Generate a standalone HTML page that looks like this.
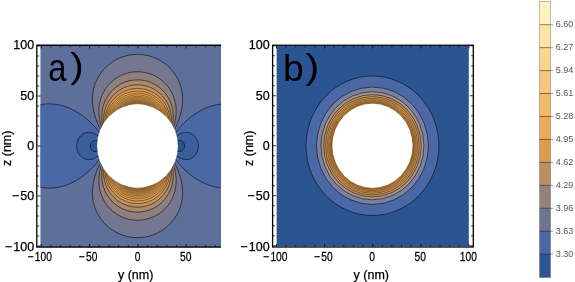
<!DOCTYPE html>
<html><head><meta charset="utf-8"><title>Contour plots</title>
<style>
html,body{margin:0;padding:0;background:#fff;}
body{width:575px;height:282px;overflow:hidden;position:relative;}
svg{position:absolute;left:0;top:0;display:block;}
text{font-family:"Liberation Sans", Arial, sans-serif;}
</style></head><body>
<svg width="575" height="282" viewBox="0 0 575 282">
<defs>
<clipPath id="ca"><rect x="40.45" y="45.9" width="180.55" height="200.6"/></clipPath>
<clipPath id="cb"><rect x="276.4" y="46.0" width="192.5" height="200.5"/></clipPath>
</defs>
<rect width="575" height="282" fill="#fff"/>
<g clip-path="url(#ca)">
<rect x="37.45" y="42.9" width="186.55" height="206.6" fill="#5d6f9b"/>
<path d="M46.8 103.9L50.5 103.9 54 104.1 57.5 104.6 61 105.3 65 106.5 68.5 107.8 72 109.4 75.5 111.2 79 113.3 82.5 115.7 86 118.4 89 121 92 123.9 95 127.1 97.5 130.1 100 133.5 100 134.9 99.5 135.4 99.5 136.9 99 137.4 99 139.4 98.5 139.9 98.5 151.9 99 152.4 99 154.4 99.5 154.9 99.5 156.9 100 157.4 100 158.4 97.5 161.9 95 164.9 93 167.1 90.5 169.6 88 171.9 85.5 174 83 176 80 178.1 77.5 179.7 74.5 181.4 71.5 182.9 68.5 184.2 66 185.1 63 186.1 60.5 186.8 57.5 187.4 55 187.8 52 188.1 48 188.1 44.5 187.9 41 187.4 37.5 186.5 37.5 105.5 39.6 104.9 42 104.4 44.5 104.1 46.8 103.9ZM223.4 103.9L223.9 103.9 223.9 188.1 220.4 187.8 217 187.3 213.9 186.6 210.4 185.6 207.4 184.5 203.9 183.1 200.9 181.6 197.4 179.6 194.4 177.7 190.9 175.1 187.9 172.7 184.9 170 181.9 167 179.4 164.2 176.9 161.1 174.9 158.4 174.9 157.4 175.4 156.9 175.4 155.4 175.9 154.9 175.9 152.9 176.4 152.4 176.4 148.4 176.9 147.9 176.9 143.9 176.4 143.4 176.4 139.4 175.9 138.9 175.9 136.9 175.4 136.4 175.4 134.9 174.9 134.4 174.9 133.6 177.4 130.2 180.4 126.7 182.4 124.5 184.9 122 187.4 119.7 189.9 117.6 192.4 115.7 195.4 113.7 197.9 112.1 200.9 110.4 203.9 108.9 206.9 107.6 209.4 106.7 212.4 105.8 214.9 105.1 218 104.5 220.9 104.1 223.4 103.9Z" fill="#4a68a6" stroke="#000" stroke-opacity="0.55" stroke-width="1.0"/>
<path d="M88.4 132.4L89.5 132.4 91 132.6 92.5 132.9 94 133.5 95.5 134.2 97 135.2 98 135.9 99.2 137.1 99 137.4 99 139.4 98.5 139.9 98.5 151.9 99 152.4 99 154.4 99.3 154.8 98.5 155.7 97 156.8 96 157.5 94.5 158.3 93 158.9 91.9 159.2 91 159.4 89.5 159.6 88 159.6 87 159.4 85.5 159.1 84.5 158.7 83.5 158.2 82.5 157.6 81.5 156.9 80.5 155.9 79.6 154.9 78.9 153.9 78.3 152.9 77.6 151.4 77.3 150.4 76.9 148.9 76.8 147.9 76.6 146.4 76.7 144.9 76.9 143.4 77.2 141.9 77.5 140.9 78.1 139.4 78.7 138.4 80 136.6 80.6 135.9 81.7 134.9 83 134.1 84 133.5 86 132.8 87 132.6 88.4 132.4ZM185.6 132.4L186.9 132.4 187.9 132.5 189.4 132.9 190.4 133.2 191.4 133.7 192.6 134.4 193.4 135.1 194.4 135.9 195.3 136.9 196 137.9 196.6 138.9 197.3 140.4 197.7 141.4 198 142.9 198.2 143.9 198.4 145.4 198.3 146.9 198.2 148.4 197.9 149.9 197.6 150.9 196.9 152.4 196.4 153.4 195.8 154.4 195 155.4 193.4 156.9 192.4 157.7 191.2 158.4 190.1 158.9 188.9 159.3 187.9 159.5 186.4 159.6 185.4 159.6 183.9 159.4 182.4 159 180.9 158.5 179.4 157.7 178.4 157.1 176.9 156 175.9 155 175.9 154.9 175.9 152.9 176.4 152.4 176.4 148.4 176.9 147.9 176.9 143.9 176.4 143.4 176.4 139.4 175.9 138.9 175.9 136.9 177.9 135.2 178.9 134.6 180.4 133.7 181.4 133.3 182.9 132.8 184.4 132.5 185.6 132.4Z" fill="#3a5f9c" stroke="#000" stroke-opacity="0.55" stroke-width="1.0"/>
<path d="M93.5 140.9L94.5 140.6 95 140.5 96 140.5 97.5 140.9 98.5 141.4 98.5 150.6 97.9 150.9 97 151.3 96 151.5 95 151.5 94 151.3 93.1 150.9 92.4 150.4 91.5 149.4 91 148.5 90.7 147.9 90.5 146.9 90.4 145.9 90.5 144.9 90.8 143.9 91.3 142.9 92 142 92.7 141.4 93.5 140.9ZM177.6 140.9L178.4 140.6 179.4 140.5 180.4 140.6 181.5 140.9 182.3 141.4 182.9 141.9 183.7 142.9 184.2 143.9 184.5 144.9 184.6 146.4 184.4 147.4 184.1 148.4 183.5 149.4 182.9 150.1 181.9 150.9 180.9 151.3 179.9 151.5 178.4 151.4 177.4 151 176.4 150.5 176.4 148.4 176.9 147.9 176.9 143.9 176.4 143.4 176.4 141.5 177.6 140.9Z" fill="#2a5591" stroke="#000" stroke-opacity="0.55" stroke-width="1.0"/>
<path d="M136.3 54.4L139.4 54.4 142.4 54.7 145.9 55.2 148.9 55.8 151.9 56.7 155.4 58.1 158.4 59.5 160.9 60.9 163.9 62.9 166.4 64.8 168.8 66.9 170.9 69.1 172.9 71.4 174.8 73.9 176.4 76.5 178 79.4 179.1 81.9 180.3 84.9 181.1 87.9 181.8 90.9 182.3 93.9 182.5 96.9 182.6 99.9 182.5 103.4 182.1 106.4 181.5 109.9 180.7 113.4 179.9 116.4 178.7 119.9 177.3 123.4 175.8 126.9 173.9 130.8 173.9 130.4 173.4 129.9 173.4 129.4 172.9 128.9 172.9 128.4 172.4 127.9 172.4 127.4 171.9 126.9 171.9 126.4 171.4 125.9 171.4 125.4 170.4 124.4 170.4 123.9 169.9 123.4 169.9 122.9 168.4 121.4 168.4 120.9 165.9 118.4 165.9 117.9 163.4 115.4 162.9 115.4 160.4 112.9 159.9 112.9 158.9 111.9 158.4 111.9 157.4 110.9 156.9 110.9 156.4 110.4 155.9 110.4 155.4 109.9 154.9 109.9 154.4 109.4 153.9 109.4 153.4 108.9 152.9 108.9 152.4 108.4 151.9 108.4 151.4 107.9 150.4 107.9 149.9 107.4 148.9 107.4 148.4 106.9 147.4 106.9 146.9 106.4 144.9 106.4 144.4 105.9 141.9 105.9 141.4 105.4 133.4 105.4 132.9 105.9 130.4 105.9 129.9 106.4 128 106.4 127.5 106.9 126.5 106.9 126 107.4 125 107.4 124.5 107.9 123.5 107.9 123 108.4 122.5 108.4 122 108.9 121.5 108.9 121 109.4 120.5 109.4 120 109.9 119.5 109.9 119 110.4 118.5 110.4 118 110.9 117.5 110.9 116.5 111.9 116 111.9 114.5 113.4 114 113.4 107 120.4 107 120.9 105.5 122.4 105.5 122.9 104.5 123.9 104.5 124.4 104 124.9 104 125.4 103 126.4 103 126.9 102.5 127.4 102.5 127.9 102 128.4 102 129.4 101.5 129.9 101.5 130.4 101 130.8 99.2 126.9 97.7 123.4 96.2 119.4 95.1 116.4 94.3 113.4 93.6 110.4 93 107.4 92.6 103.9 92.4 100.9 92.4 97.9 92.6 94.9 93 91.9 93.6 88.9 94.4 85.9 95.3 83.4 96.5 80.4 98 77.6 99.6 74.9 101.5 72.2 103.5 69.8 105.5 67.6 108 65.3 110.5 63.3 113 61.6 115.4 60.1 118.4 58.6 121 57.5 124 56.4 126.9 55.6 129.9 55 132.9 54.6 136.3 54.4ZM100.9 161.4L101.5 161.9 101.5 162.4 102 162.9 102 163.4 102.5 163.9 102.5 164.4 103 164.9 103 165.4 103.5 165.9 103.5 166.4 104 166.9 104 167.4 105 168.4 105 168.9 106 169.9 106 170.4 108 172.4 108 172.9 112.5 177.4 113 177.4 115 179.4 115.5 179.4 116.5 180.4 117 180.4 118 181.4 118.5 181.4 119 181.9 119.5 181.9 120 182.4 120.5 182.4 121 182.9 121.5 182.9 122 183.4 122.5 183.4 123 183.9 124 183.9 124.5 184.4 125.5 184.4 126 184.9 127 184.9 127.5 185.4 128.9 185.4 129.4 185.9 131.4 185.9 131.9 186.4 142.9 186.4 143.4 185.9 145.4 185.9 145.9 185.4 147.4 185.4 147.9 184.9 148.9 184.9 149.4 184.4 150.4 184.4 150.9 183.9 151.9 183.9 152.4 183.4 152.9 183.4 153.4 182.9 153.9 182.9 154.4 182.4 154.9 182.4 155.4 181.9 155.9 181.9 156.4 181.4 156.9 181.4 157.9 180.4 158.4 180.4 159.4 179.4 159.9 179.4 161.4 177.9 161.9 177.9 167.4 172.4 167.4 171.9 168.9 170.4 168.9 169.9 169.9 168.9 169.9 168.4 170.9 167.4 170.9 166.9 171.4 166.4 171.4 165.9 172.4 164.9 172.4 164.4 172.9 163.9 172.9 162.9 173.4 162.4 173.4 161.9 173.9 161.4 173.9 161.2 176.1 165.9 178.2 170.9 179.6 174.9 180.7 178.4 181.6 182.4 182.2 186.4 182.6 190.4 182.6 193.9 182.3 197.9 181.8 201.4 180.8 205.4 179.6 208.9 178.1 212.4 176.2 215.9 174.2 218.9 171.9 221.8 170.4 223.5 168.9 225 167.4 226.4 165.4 228 163.9 229.1 161.9 230.5 159.9 231.7 157.9 232.8 155.9 233.7 153.9 234.5 151.9 235.3 149.4 236 146.9 236.6 144.9 237 140.9 237.5 138.9 237.6 136.4 237.6 134.4 237.5 131.9 237.3 129.9 237 127.5 236.5 123.5 235.4 121.4 234.7 119 233.7 117 232.7 115 231.6 111.5 229.4 109.5 227.9 108 226.7 105 223.9 103.5 222.2 102 220.4 100.8 218.9 99.5 216.9 97.5 213.5 96.4 211.4 95.6 209.4 94.2 205.4 93.2 201.4 92.6 197.4 92.4 193.4 92.5 189.4 92.9 185.4 93.7 180.9 94.8 176.9 96.2 172.4 98.2 167.4 100.9 161.4Z" fill="#74778f" stroke="#000" stroke-opacity="0.55" stroke-width="1.0"/>
<path d="M134.1 71.9L136.4 71.8 138.9 71.8 141.4 72 143.9 72.3 146.4 72.8 148.9 73.5 151.4 74.4 153.9 75.4 156.4 76.7 158.4 77.9 160.4 79.3 162.4 80.9 164.4 82.8 165.9 84.3 167.7 86.4 169.2 88.4 170.5 90.4 171.9 92.9 172.8 94.9 173.8 97.4 174.6 99.9 175.2 102.4 175.7 104.9 176 107.4 176.1 109.9 176.1 112.4 176 114.9 175.7 117.9 175.2 120.4 174.7 122.9 173.8 126.4 173 128.9 172.9 128.4 172.4 127.9 172.4 127.4 171.9 126.9 171.9 126.4 171.4 125.9 171.4 125.4 170.4 124.4 170.4 123.9 169.9 123.4 169.9 122.9 168.4 121.4 168.4 120.9 165.9 118.4 165.9 117.9 163.4 115.4 162.9 115.4 160.4 112.9 159.9 112.9 158.9 111.9 158.4 111.9 157.4 110.9 156.9 110.9 156.4 110.4 155.9 110.4 155.4 109.9 154.9 109.9 154.4 109.4 153.9 109.4 153.4 108.9 152.9 108.9 152.4 108.4 151.9 108.4 151.4 107.9 150.4 107.9 149.9 107.4 148.9 107.4 148.4 106.9 147.4 106.9 146.9 106.4 144.9 106.4 144.4 105.9 141.9 105.9 141.4 105.4 133.4 105.4 132.9 105.9 130.4 105.9 129.9 106.4 128 106.4 127.5 106.9 126.5 106.9 126 107.4 125 107.4 124.5 107.9 123.5 107.9 123 108.4 122.5 108.4 122 108.9 121.5 108.9 121 109.4 120.5 109.4 120 109.9 119.5 109.9 119 110.4 118.5 110.4 118 110.9 117.5 110.9 116.5 111.9 116 111.9 114.5 113.4 114 113.4 107 120.4 107 120.9 105.5 122.4 105.5 122.9 104.5 123.9 104.5 124.4 104 124.9 104 125.4 103 126.4 103 126.9 102.5 127.4 102.5 127.9 102 128.4 102 128.7 101.1 125.9 100.3 122.9 99.4 118.4 99.1 115.9 98.9 113.4 98.9 110.9 98.9 108.9 99.1 106.4 99.4 104.4 99.8 102.4 100.4 99.9 101.2 97.4 102 95.4 102.9 93.4 104 91.4 105.1 89.4 106.4 87.5 107.9 85.6 109.5 83.9 111 82.4 113 80.6 115 79 116.5 78 118.5 76.8 120.5 75.7 122.9 74.6 125 73.9 127 73.2 129.4 72.6 131.9 72.1 134.1 71.9ZM101.9 163.4L101.9 163.3 102.5 163.9 102.5 164.4 103 164.9 103 165.4 103.5 165.9 103.5 166.4 104 166.9 104 167.4 105 168.4 105 168.9 106 169.9 106 170.4 108 172.4 108 172.9 112.5 177.4 113 177.4 115 179.4 115.5 179.4 116.5 180.4 117 180.4 118 181.4 118.5 181.4 119 181.9 119.5 181.9 120 182.4 120.5 182.4 121 182.9 121.5 182.9 122 183.4 122.5 183.4 123 183.9 124 183.9 124.5 184.4 125.5 184.4 126 184.9 127 184.9 127.5 185.4 128.9 185.4 129.4 185.9 131.4 185.9 131.9 186.4 142.9 186.4 143.4 185.9 145.4 185.9 145.9 185.4 147.4 185.4 147.9 184.9 148.9 184.9 149.4 184.4 150.4 184.4 150.9 183.9 151.9 183.9 152.4 183.4 152.9 183.4 153.4 182.9 153.9 182.9 154.4 182.4 154.9 182.4 155.4 181.9 155.9 181.9 156.4 181.4 156.9 181.4 157.9 180.4 158.4 180.4 159.4 179.4 159.9 179.4 161.4 177.9 161.9 177.9 167.4 172.4 167.4 171.9 168.9 170.4 168.9 169.9 169.9 168.9 169.9 168.4 170.9 167.4 170.9 166.9 171.4 166.4 171.4 165.9 172.4 164.9 172.4 164.4 172.9 163.9 172.9 163 173.7 165.4 174.5 168.4 175.1 170.9 175.6 173.4 175.8 175.4 176.1 177.9 176.1 180.4 176.1 182.4 176 184.4 175.7 186.9 175.3 189.4 174.8 191.4 174.2 193.4 173.5 195.4 172.7 197.4 171.7 199.4 170.6 201.4 169.7 202.9 167.5 205.9 164.9 208.7 162.4 211.1 159.4 213.4 156.4 215.3 152.9 217 149.4 218.3 145.9 219.3 143.9 219.7 141.9 220 138.4 220.2 136.4 220.2 134.4 220.1 132.4 219.9 130.4 219.6 127 218.8 123.5 217.6 119.9 216 117 214.3 114 212.2 112.5 211 111 209.6 108.5 207 107.1 205.4 106 203.9 104.1 200.9 102.6 197.9 101.1 194.4 100.1 190.9 99.6 188.9 99.3 186.9 98.9 182.9 98.9 179.4 99.1 175.9 99.7 171.9 100.7 167.4 101.9 163.4Z" fill="#8f807d" stroke="#000" stroke-opacity="0.55" stroke-width="1.0"/>
<path d="M136.3 79.9L138.4 79.9 140.4 80 142.4 80.2 144.4 80.6 146.4 81 148.4 81.6 150.4 82.3 152.4 83.2 154.4 84.2 155.9 85.1 157.4 86 159.4 87.5 161.4 89.2 162.9 90.7 164.4 92.3 165.7 93.9 166.9 95.6 168.1 97.4 169.2 99.4 170.1 101.4 170.9 103.4 171.6 105.4 172.1 107.4 172.6 109.4 172.9 111.4 173.1 113.4 173.2 115.4 173.2 117.9 173.1 119.9 172.9 122.4 172.6 124.4 172.1 127 171.9 126.9 171.9 126.4 171.4 125.9 171.4 125.4 170.4 124.4 170.4 123.9 169.9 123.4 169.9 122.9 168.4 121.4 168.4 120.9 165.9 118.4 165.9 117.9 163.4 115.4 162.9 115.4 160.4 112.9 159.9 112.9 158.9 111.9 158.4 111.9 157.4 110.9 156.9 110.9 156.4 110.4 155.9 110.4 155.4 109.9 154.9 109.9 154.4 109.4 153.9 109.4 153.4 108.9 152.9 108.9 152.4 108.4 151.9 108.4 151.4 107.9 150.4 107.9 149.9 107.4 148.9 107.4 148.4 106.9 147.4 106.9 146.9 106.4 144.9 106.4 144.4 105.9 141.9 105.9 141.4 105.4 133.4 105.4 132.9 105.9 130.4 105.9 129.9 106.4 128 106.4 127.5 106.9 126.5 106.9 126 107.4 125 107.4 124.5 107.9 123.5 107.9 123 108.4 122.5 108.4 122 108.9 121.5 108.9 121 109.4 120.5 109.4 120 109.9 119.5 109.9 119 110.4 118.5 110.4 118 110.9 117.5 110.9 116.5 111.9 116 111.9 114.5 113.4 114 113.4 107 120.4 107 120.9 105.5 122.4 105.5 122.9 104.5 123.9 104.5 124.4 104 124.9 104 125.4 103 126.4 102.9 126.9 102.2 122.9 101.9 120.4 101.8 118.4 101.8 115.9 101.9 113.9 102.1 111.9 102.3 109.9 102.7 107.9 103.3 105.9 103.9 103.9 104.7 101.9 105.5 100.1 106.3 98.4 107.5 96.5 108.5 94.9 109.7 93.4 111 91.9 112.5 90.3 114 88.8 115.4 87.6 116.9 86.5 119 85.1 120.4 84.3 122.5 83.2 124 82.6 126 81.8 128 81.2 129.9 80.7 131.9 80.3 133.9 80.1 136.3 79.9ZM102.8 165.4L103 164.9 103 165.4 103.5 165.9 103.5 166.4 104 166.9 104 167.4 105 168.4 105 168.9 106 169.9 106 170.4 108 172.4 108 172.9 112.5 177.4 113 177.4 115 179.4 115.5 179.4 116.5 180.4 117 180.4 118 181.4 118.5 181.4 119 181.9 119.5 181.9 120 182.4 120.5 182.4 121 182.9 121.5 182.9 122 183.4 122.5 183.4 123 183.9 124 183.9 124.5 184.4 125.5 184.4 126 184.9 127 184.9 127.5 185.4 128.9 185.4 129.4 185.9 131.4 185.9 131.9 186.4 142.9 186.4 143.4 185.9 145.4 185.9 145.9 185.4 147.4 185.4 147.9 184.9 148.9 184.9 149.4 184.4 150.4 184.4 150.9 183.9 151.9 183.9 152.4 183.4 152.9 183.4 153.4 182.9 153.9 182.9 154.4 182.4 154.9 182.4 155.4 181.9 155.9 181.9 156.4 181.4 156.9 181.4 157.9 180.4 158.4 180.4 159.4 179.4 159.9 179.4 161.4 177.9 161.9 177.9 167.4 172.4 167.4 171.9 168.9 170.4 168.9 169.9 169.9 168.9 169.9 168.4 170.9 167.4 170.9 166.9 171.4 166.4 171.4 165.9 172.1 165.2 172.6 167.9 173 170.9 173.2 173.9 173.2 176.4 173.1 178.9 172.7 181.9 172.2 184.4 171.5 186.9 170.2 190.4 168.8 193.4 166.9 196.4 164.9 199.1 162.4 201.8 159.9 204.1 156.9 206.3 153.9 208.1 152.4 208.8 150.4 209.7 147.4 210.7 143.9 211.5 140.4 212 136.9 212.1 133.4 211.9 129.9 211.3 126.9 210.5 123.4 209.2 120.5 207.7 117.5 205.9 115 204 112.5 201.7 110 199 108 196.2 106.2 193.4 104.8 190.4 103.7 187.4 102.7 183.9 102.1 180.4 101.8 176.9 101.8 172.9 102.2 169.4 102.8 165.4Z" fill="#a8896e" stroke="#000" stroke-opacity="0.55" stroke-width="1.0"/>
<path d="M131.8 85.4L133.9 85.1 135.9 84.9 137.9 84.9 139.9 85 141.9 85.2 143.9 85.5 145.9 86 147.9 86.6 149.9 87.3 151.9 88.2 153.9 89.2 155.4 90.1 156.9 91.1 158.4 92.3 159.9 93.5 161.4 95 162.8 96.4 163.9 97.8 165.1 99.4 166.1 100.9 167.3 102.9 168 104.4 168.9 106.4 169.6 108.4 170.2 110.4 170.7 112.4 171 114.4 171.3 116.4 171.4 118.4 171.4 120.9 171.4 122.9 171.2 125.1 170.4 124.4 170.4 123.9 169.9 123.4 169.9 122.9 168.4 121.4 168.4 120.9 165.9 118.4 165.9 117.9 163.4 115.4 162.9 115.4 160.4 112.9 159.9 112.9 158.9 111.9 158.4 111.9 157.4 110.9 156.9 110.9 156.4 110.4 155.9 110.4 155.4 109.9 154.9 109.9 154.4 109.4 153.9 109.4 153.4 108.9 152.9 108.9 152.4 108.4 151.9 108.4 151.4 107.9 150.4 107.9 149.9 107.4 148.9 107.4 148.4 106.9 147.4 106.9 146.9 106.4 144.9 106.4 144.4 105.9 141.9 105.9 141.4 105.4 133.4 105.4 132.9 105.9 130.4 105.9 129.9 106.4 128 106.4 127.5 106.9 126.5 106.9 126 107.4 125 107.4 124.5 107.9 123.5 107.9 123 108.4 122.5 108.4 122 108.9 121.5 108.9 121 109.4 120.5 109.4 120 109.9 119.5 109.9 119 110.4 118.5 110.4 118 110.9 117.5 110.9 116.5 111.9 116 111.9 114.5 113.4 114 113.4 107 120.4 107 120.9 105.5 122.4 105.5 122.9 104.5 123.9 104.5 124.4 104 124.9 104 125.4 103.9 125.5 103.6 121.9 103.6 118.4 103.9 114.9 104.5 111.4 105.6 107.9 106.7 104.9 108.3 101.9 109.9 99.4 112 96.7 114.1 94.4 116.5 92.3 118 91.2 119.5 90.2 122.4 88.5 125.5 87.1 128.4 86.1 131.8 85.4ZM103.9 166.8L104 166.9 104 167.4 105 168.4 105 168.9 106 169.9 106 170.4 108 172.4 108 172.9 112.5 177.4 113 177.4 115 179.4 115.5 179.4 116.5 180.4 117 180.4 118 181.4 118.5 181.4 119 181.9 119.5 181.9 120 182.4 120.5 182.4 121 182.9 121.5 182.9 122 183.4 122.5 183.4 123 183.9 124 183.9 124.5 184.4 125.5 184.4 126 184.9 127 184.9 127.5 185.4 128.9 185.4 129.4 185.9 131.4 185.9 131.9 186.4 142.9 186.4 143.4 185.9 145.4 185.9 145.9 185.4 147.4 185.4 147.9 184.9 148.9 184.9 149.4 184.4 150.4 184.4 150.9 183.9 151.9 183.9 152.4 183.4 152.9 183.4 153.4 182.9 153.9 182.9 154.4 182.4 154.9 182.4 155.4 181.9 155.9 181.9 156.4 181.4 156.9 181.4 157.9 180.4 158.4 180.4 159.4 179.4 159.9 179.4 161.4 177.9 161.9 177.9 167.4 172.4 167.4 171.9 168.9 170.4 168.9 169.9 169.9 168.9 169.9 168.4 170.9 167.4 170.9 166.9 171.1 166.7 171.4 169.9 171.4 172.9 171.3 175.9 170.8 178.9 170.1 181.9 169 185.4 167.6 188.4 165.9 191.4 163.9 194.2 161.9 196.5 159.4 198.9 156.9 200.9 154.4 202.5 151.4 204.1 148.4 205.3 144.9 206.3 141.9 206.8 138.4 207.1 134.9 207 131.4 206.5 128 205.7 125 204.7 121.9 203.3 119 201.5 116.5 199.7 114 197.4 111.6 194.9 109.7 192.4 108.2 189.9 106.7 186.9 105.3 183.4 104.5 180.4 103.9 176.9 103.6 173.9 103.6 170.4 103.9 166.8Z" fill="#c4925e" stroke="#000" stroke-opacity="0.51" stroke-width="1.0"/>
<path d="M132 88.9L135.4 88.5 137.4 88.4 139.4 88.5 142.9 88.9 144.4 89.2 146.4 89.7 147.9 90.2 149.9 90.9 151.4 91.6 153.4 92.6 156.4 94.6 157.9 95.7 159.3 96.9 160.4 98 161.9 99.6 164.1 102.4 166 105.4 166.7 106.9 167.6 108.9 168.8 112.4 169.6 115.9 169.9 117.9 170.1 119.9 170.2 123.6 169.9 123.4 169.9 122.9 168.4 121.4 168.4 120.9 165.9 118.4 165.9 117.9 163.4 115.4 162.9 115.4 160.4 112.9 159.9 112.9 158.9 111.9 158.4 111.9 157.4 110.9 156.9 110.9 156.4 110.4 155.9 110.4 155.4 109.9 154.9 109.9 154.4 109.4 153.9 109.4 153.4 108.9 152.9 108.9 152.4 108.4 151.9 108.4 151.4 107.9 150.4 107.9 149.9 107.4 148.9 107.4 148.4 106.9 147.4 106.9 146.9 106.4 144.9 106.4 144.4 105.9 141.9 105.9 141.4 105.4 133.4 105.4 132.9 105.9 130.4 105.9 129.9 106.4 128 106.4 127.5 106.9 126.5 106.9 126 107.4 125 107.4 124.5 107.9 123.5 107.9 123 108.4 122.5 108.4 122 108.9 121.5 108.9 121 109.4 120.5 109.4 120 109.9 119.5 109.9 119 110.4 118.5 110.4 118 110.9 117.5 110.9 116.5 111.9 116 111.9 114.5 113.4 114 113.4 107 120.4 107 120.9 105.5 122.4 105.5 122.9 104.8 123.5 104.9 120.4 105.1 117.4 105.7 114.4 106.5 111.4 107.6 108.4 108.8 105.9 110.2 103.4 112 100.9 113.9 98.6 116 96.7 118.5 94.7 121 93 123.4 91.6 126 90.6 128.9 89.6 132 88.9ZM104.8 168.3L105 168.4 105 168.9 106 169.9 106 170.4 108 172.4 108 172.9 112.5 177.4 113 177.4 115 179.4 115.5 179.4 116.5 180.4 117 180.4 118 181.4 118.5 181.4 119 181.9 119.5 181.9 120 182.4 120.5 182.4 121 182.9 121.5 182.9 122 183.4 122.5 183.4 123 183.9 124 183.9 124.5 184.4 125.5 184.4 126 184.9 127 184.9 127.5 185.4 128.9 185.4 129.4 185.9 131.4 185.9 131.9 186.4 142.9 186.4 143.4 185.9 145.4 185.9 145.9 185.4 147.4 185.4 147.9 184.9 148.9 184.9 149.4 184.4 150.4 184.4 150.9 183.9 151.9 183.9 152.4 183.4 152.9 183.4 153.4 182.9 153.9 182.9 154.4 182.4 154.9 182.4 155.4 181.9 155.9 181.9 156.4 181.4 156.9 181.4 157.9 180.4 158.4 180.4 159.4 179.4 159.9 179.4 161.4 177.9 161.9 177.9 167.4 172.4 167.4 171.9 168.9 170.4 168.9 169.9 169.9 168.9 169.9 168.4 170.2 168.2 170.2 171.4 169.8 174.9 169.3 177.9 168.3 181.4 167.1 184.4 165.5 187.4 163.9 189.9 161.9 192.4 159.4 194.9 156.9 197 154.4 198.8 151.4 200.4 148.4 201.7 145.4 202.6 142.4 203.2 138.9 203.5 135.9 203.5 132.4 203.2 129.4 202.6 126.5 201.6 123.4 200.3 120.5 198.7 118 197 115.5 194.9 113.1 192.4 111.1 189.9 109.5 187.3 107.9 184.4 106.7 181.4 105.7 177.9 105.2 174.9 104.8 171.4 104.8 168.3Z" fill="#d89952" stroke="#000" stroke-opacity="0.46" stroke-width="1.0"/>
<path d="M133 91.4L136.4 91.1 139.4 91.1 142.9 91.6 145.9 92.2 148.9 93.3 151.9 94.6 154.9 96.4 156.4 97.5 157.9 98.7 160.4 101.1 162.4 103.4 164.1 105.9 165.8 108.9 167.1 111.9 168.2 115.4 168.8 118.4 169.2 122.1 168.4 121.4 168.4 120.9 165.9 118.4 165.9 117.9 163.4 115.4 162.9 115.4 160.4 112.9 159.9 112.9 158.9 111.9 158.4 111.9 157.4 110.9 156.9 110.9 156.4 110.4 155.9 110.4 155.4 109.9 154.9 109.9 154.4 109.4 153.9 109.4 153.4 108.9 152.9 108.9 152.4 108.4 151.9 108.4 151.4 107.9 150.4 107.9 149.9 107.4 148.9 107.4 148.4 106.9 147.4 106.9 146.9 106.4 144.9 106.4 144.4 105.9 141.9 105.9 141.4 105.4 133.4 105.4 132.9 105.9 130.4 105.9 129.9 106.4 128 106.4 127.5 106.9 126.5 106.9 126 107.4 125 107.4 124.5 107.9 123.5 107.9 123 108.4 122.5 108.4 122 108.9 121.5 108.9 121 109.4 120.5 109.4 120 109.9 119.5 109.9 119 110.4 118.5 110.4 118 110.9 117.5 110.9 116.5 111.9 116 111.9 114.5 113.4 114 113.4 107 120.4 107 120.9 105.8 122 106.1 118.9 106.6 116.4 107.2 113.9 108.3 110.9 109.5 108.4 110.9 105.9 112.2 103.9 114 101.8 116 99.7 118 98 120 96.5 122.5 94.9 124.9 93.7 127.5 92.7 129.9 92 133 91.4ZM105.8 169.8L106 169.9 106 170.4 108 172.4 108 172.9 112.5 177.4 113 177.4 115 179.4 115.5 179.4 116.5 180.4 117 180.4 118 181.4 118.5 181.4 119 181.9 119.5 181.9 120 182.4 120.5 182.4 121 182.9 121.5 182.9 122 183.4 122.5 183.4 123 183.9 124 183.9 124.5 184.4 125.5 184.4 126 184.9 127 184.9 127.5 185.4 128.9 185.4 129.4 185.9 131.4 185.9 131.9 186.4 142.9 186.4 143.4 185.9 145.4 185.9 145.9 185.4 147.4 185.4 147.9 184.9 148.9 184.9 149.4 184.4 150.4 184.4 150.9 183.9 151.9 183.9 152.4 183.4 152.9 183.4 153.4 182.9 153.9 182.9 154.4 182.4 154.9 182.4 155.4 181.9 155.9 181.9 156.4 181.4 156.9 181.4 157.9 180.4 158.4 180.4 159.4 179.4 159.9 179.4 161.4 177.9 161.9 177.9 167.4 172.4 167.4 171.9 168.9 170.4 168.9 169.9 169.2 169.7 168.9 172.9 168.3 175.9 167.5 178.9 166.4 181.9 164.9 184.7 163.3 187.4 161.4 189.8 159.4 191.9 157.4 193.7 154.9 195.6 152.4 197.1 149.4 198.5 146.4 199.6 143.4 200.3 140.4 200.8 137.4 200.9 134.4 200.8 131.4 200.3 128.4 199.6 125.5 198.5 122.5 197.1 120 195.5 117.5 193.6 115.5 191.8 113.5 189.6 111.7 187.4 110.1 184.9 108.6 181.9 107.5 178.9 106.7 175.9 106.1 172.9 105.8 169.8Z" fill="#e19e51" stroke="#000" stroke-opacity="0.42" stroke-width="1.0"/>
<path d="M133.9 93.4L136.4 93.2 139.4 93.2 142.4 93.6 145.4 94.2 148.4 95.2 151.4 96.6 153.9 98 156.4 99.8 158.4 101.5 160.7 103.9 162.7 106.4 164.2 108.9 165.7 111.9 166.7 114.4 167.5 117.4 168.1 120.6 165.9 118.4 165.9 117.9 164.4 116.4 163.4 115.4 162.9 115.4 160.4 112.9 159.9 112.9 158.9 111.9 158.4 111.9 157.4 110.9 156.9 110.9 156.4 110.4 155.9 110.4 155.4 109.9 154.9 109.9 154.4 109.4 153.9 109.4 153.4 108.9 152.9 108.9 152.4 108.4 151.9 108.4 151.4 107.9 150.4 107.9 149.9 107.4 148.9 107.4 148.4 106.9 147.4 106.9 146.9 106.4 144.9 106.4 144.4 105.9 141.9 105.9 141.4 105.4 133.4 105.4 132.9 105.9 130.4 105.9 129.9 106.4 128 106.4 127.5 106.9 126.5 106.9 126 107.4 125 107.4 124.5 107.9 123.5 107.9 123 108.4 122.5 108.4 122 108.9 121.5 108.9 121 109.4 120.5 109.4 120 109.9 119.5 109.9 119 110.4 118.5 110.4 118 110.9 117.5 110.9 116.5 111.9 116 111.9 114.5 113.4 114 113.4 107 120.4 107 120.9 106.8 121 107.2 118.4 107.8 115.9 108.7 113.4 109.7 110.9 110.9 108.6 112.4 106.4 113.9 104.3 115.7 102.4 117.5 100.7 119.4 99.1 121.5 97.8 124 96.4 126.5 95.3 128.4 94.6 131.4 93.8 133.9 93.4ZM106.9 171.3L108 172.4 108 172.9 112.5 177.4 113 177.4 115 179.4 115.5 179.4 116.5 180.4 117 180.4 118 181.4 118.5 181.4 119 181.9 119.5 181.9 120 182.4 120.5 182.4 121 182.9 121.5 182.9 122 183.4 122.5 183.4 123 183.9 124 183.9 124.5 184.4 125.5 184.4 126 184.9 127 184.9 127.5 185.4 128.9 185.4 129.4 185.9 131.4 185.9 131.9 186.4 142.9 186.4 143.4 185.9 145.4 185.9 145.9 185.4 147.4 185.4 147.9 184.9 148.9 184.9 149.4 184.4 150.4 184.4 150.9 183.9 151.9 183.9 152.4 183.4 152.9 183.4 153.4 182.9 153.9 182.9 154.4 182.4 154.9 182.4 155.4 181.9 155.9 181.9 156.4 181.4 156.9 181.4 157.9 180.4 158.4 180.4 159.4 179.4 159.9 179.4 161.4 177.9 161.9 177.9 167.4 172.4 167.4 171.9 168.2 171.2 167.7 173.9 167.1 176.4 166.2 178.9 164.9 181.9 163.4 184.4 161.7 186.9 159.9 189 157.9 190.9 155.9 192.6 153.4 194.3 150.9 195.7 148.4 196.8 145.9 197.6 142.9 198.3 140.4 198.7 137.4 198.8 134.4 198.7 131.9 198.3 128.9 197.6 126.4 196.7 124 195.6 121.4 194.2 119 192.5 117 190.8 115 188.8 113.3 186.9 111.6 184.4 110.1 181.9 109 179.4 108.1 176.9 107.3 173.9 106.9 171.3Z" fill="#e2a052" stroke="#000" stroke-opacity="0.37" stroke-width="1.0"/>
<path d="M132.1 95.4L134.9 95 137.9 94.9 140.9 95.1 143.9 95.6 146.9 96.5 149.4 97.4 151.9 98.7 154.4 100.2 156.9 102.1 158.9 104 160.9 106.3 162.5 108.4 164 110.9 165.2 113.4 166.3 116.4 167.1 119.6 165.9 118.4 165.9 117.9 163.4 115.4 162.9 115.4 160.4 112.9 159.9 112.9 158.9 111.9 158.4 111.9 157.4 110.9 156.9 110.9 156.4 110.4 155.9 110.4 155.4 109.9 154.9 109.9 154.4 109.4 153.9 109.4 153.4 108.9 152.9 108.9 152.4 108.4 151.9 108.4 151.4 107.9 150.4 107.9 149.9 107.4 148.9 107.4 148.4 106.9 147.4 106.9 146.9 106.4 144.9 106.4 144.4 105.9 141.9 105.9 141.4 105.4 133.4 105.4 132.9 105.9 130.4 105.9 129.9 106.4 128 106.4 127.5 106.9 126.5 106.9 126 107.4 125 107.4 124.5 107.9 123.5 107.9 123 108.4 122.5 108.4 122 108.9 121.5 108.9 121 109.4 120.5 109.4 120 109.9 119.5 109.9 119 110.4 118.5 110.4 118 110.9 117.5 110.9 116.5 111.9 116 111.9 114.5 113.4 114 113.4 107.9 119.4 108.5 116.9 109.2 114.9 110 112.9 111 110.9 112.2 108.9 113.4 107.1 115 105.2 116.5 103.6 118 102.2 119.9 100.6 122 99.3 124 98.2 126 97.2 128 96.5 129.9 95.9 132.1 95.4ZM107.9 172.3L108 172.4 108 172.8 107.9 172.3ZM166.9 172.9L167 172.8 167 172.9 166.7 174.4 165.7 177.4 164.6 179.9 163.3 182.4 161.9 184.4 160.4 186.4 158.4 188.5 156.4 190.3 154.4 191.8 152.4 193.1 149.9 194.4 147.4 195.4 144.9 196.1 142.4 196.7 139.9 197 137.4 197.1 134.9 197 132.4 196.7 129.9 196.1 127.5 195.3 125 194.3 123 193.3 120.5 191.7 118.5 190.2 116.4 188.4 114.6 186.4 113.1 184.4 111.7 182.4 110.6 180.4 109.5 177.9 108.6 175.4 108 172.9 112.5 177.4 113 177.4 115 179.4 115.5 179.4 116.5 180.4 117 180.4 118 181.4 118.5 181.4 119 181.9 119.5 181.9 120 182.4 120.5 182.4 121 182.9 121.5 182.9 122 183.4 122.5 183.4 123 183.9 124 183.9 124.5 184.4 125.5 184.4 126 184.9 127 184.9 127.5 185.4 128.9 185.4 129.4 185.9 131.4 185.9 131.9 186.4 142.9 186.4 143.4 185.9 145.4 185.9 145.9 185.4 147.4 185.4 147.9 184.9 148.9 184.9 149.4 184.4 150.4 184.4 150.9 183.9 151.9 183.9 152.4 183.4 152.9 183.4 153.4 182.9 153.9 182.9 154.4 182.4 154.9 182.4 155.4 181.9 155.9 181.9 156.4 181.4 156.9 181.4 157.9 180.4 158.4 180.4 159.4 179.4 159.9 179.4 161.4 177.9 161.9 177.9 166.9 172.9Z" fill="#e4a153" stroke="#000" stroke-opacity="0.34" stroke-width="1.0"/>
<path d="M136.1 96.4L138.4 96.4 140.9 96.6 143.4 97 145.9 97.6 148.4 98.5 150.4 99.4 152.4 100.5 154.4 101.8 156.4 103.3 158.2 104.9 159.9 106.8 161.4 108.8 162.9 110.9 164.2 113.4 165.2 115.9 165.9 117.8 163.4 115.4 162.9 115.4 160.4 112.9 159.9 112.9 158.9 111.9 158.4 111.9 157.4 110.9 156.9 110.9 156.4 110.4 155.9 110.4 155.4 109.9 154.9 109.9 154.4 109.4 153.9 109.4 153.4 108.9 152.9 108.9 152.4 108.4 151.9 108.4 151.4 107.9 150.4 107.9 149.9 107.4 148.9 107.4 148.4 106.9 147.4 106.9 146.9 106.4 144.9 106.4 144.4 105.9 141.9 105.9 141.4 105.4 133.4 105.4 132.9 105.9 130.4 105.9 129.9 106.4 128 106.4 127.5 106.9 126.5 106.9 126 107.4 125 107.4 124.5 107.9 123.5 107.9 123 108.4 122.5 108.4 122 108.9 121.5 108.9 121 109.4 120.5 109.4 120 109.9 119.5 109.9 119 110.4 118.5 110.4 118 110.9 117.5 110.9 116.5 111.9 116 111.9 114.5 113.4 114 113.4 108.9 118.4 109.8 115.9 110.6 113.9 111.6 111.9 112.8 109.9 113.9 108.2 115.5 106.4 116.9 104.8 119 103 121 101.5 123 100.2 125 99.2 127 98.3 128.9 97.6 131.4 97 133.9 96.6 136.1 96.4ZM165.9 118.4L165.9 118 166.1 118.5 165.9 118.4ZM165.9 173.9L165.3 175.9 164.3 178.4 163.3 180.4 161.9 182.5 160.4 184.6 158.9 186.3 157.4 187.8 155.4 189.5 153.4 190.9 151.4 192.1 149.4 193.1 146.9 194.1 144.9 194.7 142.4 195.2 139.9 195.5 137.4 195.6 135.4 195.6 132.9 195.3 130.4 194.8 128.4 194.2 125.9 193.3 124 192.3 122 191.2 120 189.8 118 188.1 116.5 186.7 114.8 184.9 113.3 182.9 112 180.8 110.7 178.4 109.7 175.9 109.1 174 112.5 177.4 113 177.4 115 179.4 115.5 179.4 116.5 180.4 117 180.4 118 181.4 118.5 181.4 119 181.9 119.5 181.9 120 182.4 120.5 182.4 121 182.9 121.5 182.9 122 183.4 122.5 183.4 123 183.9 124 183.9 124.5 184.4 125.5 184.4 126 184.9 127 184.9 127.5 185.4 128.9 185.4 129.4 185.9 131.4 185.9 131.9 186.4 142.9 186.4 143.4 185.9 145.4 185.9 145.9 185.4 147.4 185.4 147.9 184.9 148.9 184.9 149.4 184.4 150.4 184.4 150.9 183.9 151.9 183.9 152.4 183.4 152.9 183.4 153.4 182.9 153.9 182.9 154.4 182.4 154.9 182.4 155.4 181.9 155.9 181.9 156.4 181.4 156.9 181.4 157.9 180.4 158.4 180.4 159.4 179.4 159.9 179.4 161.4 177.9 161.9 177.9 165.9 173.9Z" fill="#e5a355" stroke="#000" stroke-opacity="0.34" stroke-width="1.0"/>
<path d="M133.4 97.9L135.9 97.7 138.4 97.6 140.9 97.8 143.4 98.2 145.4 98.7 147.9 99.6 150.4 100.7 152.4 101.8 154.4 103.1 156.4 104.7 158.4 106.6 159.9 108.3 161.4 110.4 162.7 112.4 163.8 114.4 164.7 116.7 163.4 115.4 162.9 115.4 160.4 112.9 159.9 112.9 158.9 111.9 158.4 111.9 157.4 110.9 156.9 110.9 156.4 110.4 155.9 110.4 155.4 109.9 154.9 109.9 154.4 109.4 153.9 109.4 153.4 108.9 152.9 108.9 152.4 108.4 151.9 108.4 151.4 107.9 150.4 107.9 149.9 107.4 148.9 107.4 148.4 106.9 147.4 106.9 146.9 106.4 144.9 106.4 144.4 105.9 141.9 105.9 141.4 105.4 133.4 105.4 132.9 105.9 130.4 105.9 129.9 106.4 128 106.4 127.5 106.9 126.5 106.9 126 107.4 125 107.4 124.5 107.9 123.5 107.9 123 108.4 122.5 108.4 122 108.9 121.5 108.9 121 109.4 120.5 109.4 120 109.9 119.5 109.9 119 110.4 118.5 110.4 118 110.9 117.5 110.9 116.5 111.9 116 111.9 114.5 113.4 114 113.4 110 117.3 110.8 115.4 111.7 113.4 112.6 111.9 113.5 110.4 114.6 108.9 116 107.3 117.5 105.7 118.9 104.4 120.5 103.2 122.5 101.9 124 101 126 100 128 99.2 129.4 98.8 131.4 98.3 133.4 97.9ZM110.2 175.2L112.5 177.4 113 177.4 115 179.4 115.5 179.4 116.5 180.4 117 180.4 118 181.4 118.5 181.4 119 181.9 119.5 181.9 120 182.4 120.5 182.4 121 182.9 121.5 182.9 122 183.4 122.5 183.4 123 183.9 124 183.9 124.5 184.4 125.5 184.4 126 184.9 127 184.9 127.5 185.4 128.9 185.4 129.4 185.9 131.4 185.9 131.9 186.4 142.9 186.4 143.4 185.9 145.4 185.9 145.9 185.4 147.4 185.4 147.9 184.9 148.9 184.9 149.4 184.4 150.4 184.4 150.9 183.9 151.9 183.9 152.4 183.4 152.9 183.4 153.4 182.9 153.9 182.9 154.4 182.4 154.9 182.4 155.4 181.9 155.9 181.9 156.4 181.4 156.9 181.4 157.9 180.4 158.4 180.4 159.4 179.4 159.9 179.4 161.4 177.9 161.9 177.9 164.9 175 164.1 176.9 162.9 179.2 161.6 181.4 160.4 183 159 184.8 157.4 186.4 155.9 187.7 153.9 189.2 151.9 190.5 149.9 191.6 147.9 192.4 145.9 193.1 143.9 193.7 141.9 194 139.9 194.3 137.4 194.4 135.4 194.3 133.4 194.1 130.9 193.6 128.9 193.1 127 192.4 125 191.5 123 190.4 120.9 189.2 119 187.6 117.5 186.3 115.9 184.7 114.5 182.9 113.4 181.4 112.2 179.4 111.1 177.4 110.2 175.2Z" fill="#e7a456" stroke="#000" stroke-opacity="0.34" stroke-width="1.0"/>
<path d="M134.2 98.9L136.4 98.7 138.4 98.7 140.4 98.9 142.9 99.2 144.9 99.7 147.4 100.5 149.4 101.3 151.4 102.4 153.4 103.6 154.9 104.7 156.9 106.4 158.4 107.9 159.9 109.7 161.2 111.4 162.4 113.4 163.5 115.4 162.9 115.4 160.4 112.9 159.9 112.9 158.9 111.9 158.4 111.9 157.4 110.9 156.9 110.9 156.4 110.4 155.9 110.4 155.4 109.9 154.9 109.9 154.4 109.4 153.9 109.4 153.4 108.9 152.9 108.9 152.4 108.4 151.9 108.4 151.4 107.9 150.4 107.9 149.9 107.4 148.9 107.4 148.4 106.9 147.4 106.9 146.9 106.4 144.9 106.4 144.4 105.9 141.9 105.9 141.4 105.4 133.4 105.4 132.9 105.9 130.4 105.9 129.9 106.4 128 106.4 127.5 106.9 126.5 106.9 126 107.4 125 107.4 124.5 107.9 123.5 107.9 123 108.4 122.5 108.4 122 108.9 121.5 108.9 121 109.4 120.5 109.4 120 109.9 119.5 109.9 119 110.4 118.5 110.4 118 110.9 117.5 110.9 116.5 111.9 116 111.9 114.5 113.4 114 113.4 111.2 116.1 112 114.4 112.9 112.9 113.8 111.4 115 109.8 116.1 108.4 117.4 107 118.9 105.6 120.5 104.4 122 103.3 123.5 102.4 125 101.6 127 100.7 128.4 100.2 130.4 99.6 132.4 99.2 134.2 98.9ZM111.4 176.4L112.5 177.4 113 177.4 115 179.4 115.5 179.4 116.5 180.4 117 180.4 118 181.4 118.5 181.4 119 181.9 119.5 181.9 120 182.4 120.5 182.4 121 182.9 121.5 182.9 122 183.4 122.5 183.4 123 183.9 124 183.9 124.5 184.4 125.5 184.4 126 184.9 127 184.9 127.5 185.4 128.9 185.4 129.4 185.9 131.4 185.9 131.9 186.4 142.9 186.4 143.4 185.9 145.4 185.9 145.9 185.4 147.4 185.4 147.9 184.9 148.9 184.9 149.4 184.4 150.4 184.4 150.9 183.9 151.9 183.9 152.4 183.4 152.9 183.4 153.4 182.9 153.9 182.9 154.4 182.4 154.9 182.4 155.4 181.9 155.9 181.9 156.4 181.4 156.9 181.4 157.9 180.4 158.4 180.4 159.4 179.4 159.9 179.4 161.4 177.9 161.9 177.9 163.6 176.2 162.8 177.9 161.7 179.9 160.4 181.7 159.1 183.4 157.9 184.6 156.4 186 154.9 187.3 152.9 188.7 151.4 189.6 149.4 190.7 147.4 191.5 145.4 192.2 143.4 192.7 141.4 193 139.4 193.2 137.4 193.3 135.4 193.2 133.4 193 131.4 192.6 129.4 192.1 127.5 191.5 125.5 190.6 123.4 189.6 121.9 188.7 120.5 187.6 119 186.4 117.5 185 115.9 183.4 114.7 181.9 113.5 180.1 112.2 177.9 111.4 176.4Z" fill="#e8a657" stroke="#000" stroke-opacity="0.34" stroke-width="1.0"/>
<path d="M133.9 99.9L135.9 99.7 137.9 99.7 139.9 99.8 142.4 100.1 144.4 100.5 146.4 101.1 148.4 101.9 150.4 102.8 151.9 103.7 153.9 105 155.9 106.6 157.4 108 158.9 109.6 160.3 111.4 161.7 113.4 162.6 115 160.4 112.9 159.9 112.9 158.9 111.9 158.4 111.9 157.4 110.9 156.9 110.9 156.4 110.4 155.9 110.4 155.4 109.9 154.9 109.9 154.4 109.4 153.9 109.4 153.4 108.9 152.9 108.9 152.4 108.4 151.9 108.4 151.4 107.9 150.4 107.9 149.9 107.4 148.9 107.4 148.4 106.9 147.4 106.9 146.9 106.4 144.9 106.4 144.4 105.9 141.9 105.9 141.4 105.4 133.4 105.4 132.9 105.9 130.4 105.9 129.9 106.4 128 106.4 127.5 106.9 126.5 106.9 126 107.4 125 107.4 124.5 107.9 123.5 107.9 123 108.4 122.5 108.4 122 108.9 121.5 108.9 121 109.4 120.5 109.4 120 109.9 119.5 109.9 119 110.4 118.5 110.4 118 110.9 117.5 110.9 116.5 111.9 116 111.9 114.5 113.4 114 113.4 112.6 114.8 113.3 113.4 114.3 111.9 115.4 110.4 116.5 109.2 117.7 107.9 119 106.7 121.5 104.7 122.9 103.7 124.5 102.9 126 102.2 127.5 101.5 130.4 100.6 131.9 100.2 133.9 99.9ZM112.7 177.4L113 177.4 115 179.4 115.5 179.4 116.5 180.4 117 180.4 118 181.4 118.5 181.4 119 181.9 119.5 181.9 120 182.4 120.5 182.4 121 182.9 121.5 182.9 122 183.4 122.5 183.4 123 183.9 124 183.9 124.5 184.4 125.5 184.4 126 184.9 127 184.9 127.5 185.4 128.9 185.4 129.4 185.9 131.4 185.9 131.9 186.4 142.9 186.4 143.4 185.9 145.4 185.9 145.9 185.4 147.4 185.4 147.9 184.9 148.9 184.9 149.4 184.4 150.4 184.4 150.9 183.9 151.9 183.9 152.4 183.4 152.9 183.4 153.4 182.9 153.9 182.9 154.4 182.4 154.9 182.4 155.4 181.9 155.9 181.9 156.4 181.4 156.9 181.4 157.9 180.4 158.4 180.4 159.4 179.4 159.9 179.4 161.4 177.9 161.9 177.9 162.2 177.6 161.2 179.4 160.1 180.9 157.9 183.5 156.4 185 154.9 186.2 153.4 187.3 151.9 188.3 150.4 189.2 148.4 190.1 146.9 190.7 144.9 191.3 143.4 191.7 141.4 192.1 139.4 192.3 137.4 192.3 135.4 192.3 133.9 192.1 131.9 191.8 129.9 191.3 128 190.7 126.4 190.1 124.5 189.1 122.9 188.3 121.4 187.3 119.9 186.2 118.5 184.9 117 183.4 115.7 181.9 114.5 180.4 113.5 178.9 112.7 177.4Z" fill="#eaa758" stroke="#000" stroke-opacity="0.34" stroke-width="1.0"/>
<path d="M132.9 100.9L134.9 100.6 136.9 100.5 138.9 100.6 140.9 100.7 142.9 101.1 144.9 101.5 146.9 102.2 148.9 103 150.9 104 152.4 104.9 153.9 105.9 155.4 107.1 156.9 108.5 158.4 110.1 159.9 111.9 160.9 113.3 160.4 112.9 159.9 112.9 158.9 111.9 158.4 111.9 157.4 110.9 156.9 110.9 156.4 110.4 155.9 110.4 155.4 109.9 154.9 109.9 154.4 109.4 153.9 109.4 153.4 108.9 152.9 108.9 152.4 108.4 151.9 108.4 151.4 107.9 150.4 107.9 149.9 107.4 148.9 107.4 148.4 106.9 147.4 106.9 146.9 106.4 144.9 106.4 144.4 105.9 141.9 105.9 141.4 105.4 133.4 105.4 132.9 105.9 130.4 105.9 129.9 106.4 128 106.4 127.5 106.9 126.5 106.9 126 107.4 125 107.4 124.5 107.9 123.5 107.9 123 108.4 122.5 108.4 122 108.9 121.5 108.9 121 109.4 120.5 109.4 120 109.9 119.5 109.9 119 110.4 118.5 110.4 118 110.9 117.5 110.9 116.5 111.9 116 111.9 114.5 113.4 114.1 113.4 116 110.8 118 108.6 120 106.8 122.4 105 124.9 103.5 127.4 102.4 129.9 101.6 132.9 100.9ZM113.9 178.4L115 179.4 115.5 179.4 116.5 180.4 117 180.4 118 181.4 118.5 181.4 119 181.9 119.5 181.9 120 182.4 120.5 182.4 121 182.9 121.5 182.9 122 183.4 122.5 183.4 123 183.9 124 183.9 124.5 184.4 125.5 184.4 126 184.9 127 184.9 127.5 185.4 128.9 185.4 129.4 185.9 131.4 185.9 131.9 186.4 142.9 186.4 143.4 185.9 145.4 185.9 145.9 185.4 147.4 185.4 147.9 184.9 148.9 184.9 149.4 184.4 150.4 184.4 150.9 183.9 151.9 183.9 152.4 183.4 152.9 183.4 153.4 182.9 153.9 182.9 154.4 182.4 154.9 182.4 155.4 181.9 155.9 181.9 156.4 181.4 156.9 181.4 157.9 180.4 158.4 180.4 159.4 179.4 159.9 179.4 161.2 178.1 160.4 179.4 159.3 180.9 158 182.4 156.9 183.5 155.5 184.9 153.9 186.1 152.4 187.1 150.9 188 149.4 188.8 147.4 189.6 144.4 190.6 142.4 191 140.9 191.3 138.9 191.4 137.4 191.5 135.9 191.4 133.9 191.3 132.4 191 130.4 190.6 127.5 189.6 125.5 188.7 124 187.9 122.5 187 121 186 118.5 183.9 117 182.4 116 181.2 114.9 179.9 113.9 178.4Z" fill="#eba959" stroke="#000" stroke-opacity="0.34" stroke-width="1.0"/>
<path d="M135.1 101.4L136.9 101.3 138.4 101.3 140.4 101.5 141.9 101.7 143.9 102.1 145.4 102.5 147.4 103.2 148.9 103.8 150.4 104.6 151.9 105.4 153.4 106.4 154.9 107.6 156.4 108.9 157.4 109.9 158.8 111.4 159.8 112.7 158.9 111.9 158.4 111.9 157.4 110.9 156.9 110.9 156.4 110.4 155.9 110.4 155.4 109.9 154.9 109.9 154.4 109.4 153.9 109.4 153.4 108.9 152.9 108.9 152.4 108.4 151.9 108.4 151.4 107.9 150.4 107.9 149.9 107.4 148.9 107.4 148.4 106.9 147.4 106.9 146.9 106.4 144.9 106.4 144.4 105.9 141.9 105.9 141.4 105.4 133.4 105.4 132.9 105.9 130.4 105.9 129.9 106.4 128 106.4 127.5 106.9 126.5 106.9 126 107.4 125 107.4 124.5 107.9 123.5 107.9 123 108.4 122.5 108.4 122 108.9 121.5 108.9 121 109.4 120.5 109.4 120 109.9 119.5 109.9 119 110.4 118.5 110.4 118 110.9 117.5 110.9 116.5 111.9 116 111.9 115.5 112.3 117.5 110 119.5 108.1 121.9 106.1 124.4 104.6 127 103.4 129.4 102.5 132.4 101.8 135.1 101.4ZM115.3 179.4L115.5 179.4 116.5 180.4 117 180.4 118 181.4 118.5 181.4 119 181.9 119.5 181.9 120 182.4 120.5 182.4 121 182.9 121.5 182.9 122 183.4 122.5 183.4 123 183.9 124 183.9 124.5 184.4 125.5 184.4 126 184.9 127 184.9 127.5 185.4 128.9 185.4 129.4 185.9 131.4 185.9 131.9 186.4 142.9 186.4 143.4 185.9 145.4 185.9 145.9 185.4 147.4 185.4 147.9 184.9 148.9 184.9 149.4 184.4 150.4 184.4 150.9 183.9 151.9 183.9 152.4 183.4 152.9 183.4 153.4 182.9 153.9 182.9 154.4 182.4 154.9 182.4 155.4 181.9 155.9 181.9 156.4 181.4 156.9 181.4 157.9 180.4 158.4 180.4 159.4 179.4 159.7 179.4 157.6 181.9 155.4 184 152.9 185.9 151.4 186.9 149.9 187.7 146.9 189 143.9 189.9 142.4 190.3 140.4 190.6 137.4 190.7 134.4 190.5 132.4 190.2 130.9 189.9 128 189 125 187.7 122.5 186.2 119.9 184.3 118.5 183 117.5 182 115.3 179.4Z" fill="#ecab5b" stroke="#000" stroke-opacity="0.34" stroke-width="1.0"/>
<path d="M132.8 102.4L134.4 102.2 136.4 102 138.4 102 139.9 102.1 141.4 102.3 143.4 102.7 145.4 103.2 146.9 103.7 148.9 104.5 150.4 105.3 151.9 106.2 153.4 107.2 155.9 109.3 157.1 110.4 158.5 111.9 157.4 110.9 156.9 110.9 156.4 110.4 155.9 110.4 155.4 109.9 154.9 109.9 154.4 109.4 153.9 109.4 153.4 108.9 152.9 108.9 152.4 108.4 151.9 108.4 151.4 107.9 150.4 107.9 149.9 107.4 148.9 107.4 148.4 106.9 147.4 106.9 146.9 106.4 144.9 106.4 144.4 105.9 141.9 105.9 141.4 105.4 133.4 105.4 132.9 105.9 130.4 105.9 129.9 106.4 128 106.4 127.5 106.9 126.5 106.9 126 107.4 125 107.4 124.5 107.9 123.5 107.9 123 108.4 122.5 108.4 122 108.9 121.5 108.9 121 109.4 120.5 109.4 120 109.9 119.5 109.9 119 110.4 118.5 110.4 118 110.9 117.5 110.9 117.2 111.2 118.9 109.4 120.5 108 122.5 106.6 123.9 105.6 125.9 104.6 128.4 103.6 130.9 102.8 132.8 102.4ZM116.8 180.4L117 180.4 118 181.4 118.5 181.4 119 181.9 119.5 181.9 120 182.4 120.5 182.4 121 182.9 121.5 182.9 122 183.4 122.5 183.4 123 183.9 124 183.9 124.5 184.4 125.5 184.4 126 184.9 127 184.9 127.5 185.4 128.9 185.4 129.4 185.9 131.4 185.9 131.9 186.4 142.9 186.4 143.4 185.9 145.4 185.9 145.9 185.4 147.4 185.4 147.9 184.9 148.9 184.9 149.4 184.4 150.4 184.4 150.9 183.9 151.9 183.9 152.4 183.4 152.9 183.4 153.4 182.9 153.9 182.9 154.4 182.4 154.9 182.4 155.4 181.9 155.9 181.9 156.4 181.4 156.9 181.4 157.9 180.4 158.2 180.4 155.9 182.7 153.9 184.4 151.4 186.1 148.9 187.5 145.9 188.7 143.4 189.3 140.4 189.8 137.4 190 134.4 189.8 131.9 189.4 128.9 188.6 126.5 187.6 124 186.4 121.5 184.7 118.9 182.7 116.8 180.4Z" fill="#ecac5d" stroke="#000" stroke-opacity="0.34" stroke-width="1.0"/>
<path d="M133.8 102.9L135.4 102.7 136.9 102.6 139.9 102.7 142.9 103.2 145.9 104 148.9 105.2 151.4 106.6 153.9 108.3 156.4 110.4 155.9 110.4 155.4 109.9 154.9 109.9 154.4 109.4 153.9 109.4 153.4 108.9 152.9 108.9 152.4 108.4 151.9 108.4 151.4 107.9 150.4 107.9 149.9 107.4 148.9 107.4 148.4 106.9 147.4 106.9 146.9 106.4 144.9 106.4 144.4 105.9 141.9 105.9 141.4 105.4 133.4 105.4 132.9 105.9 130.4 105.9 129.9 106.4 128 106.4 127.5 106.9 126.5 106.9 126 107.4 125 107.4 124.5 107.9 123.5 107.9 123 108.4 122.5 108.4 122 108.9 121.5 108.9 121 109.4 120.5 109.4 120 109.9 119.5 109.9 119 110.4 118.6 110.4 120.4 108.8 121.9 107.6 123.4 106.6 125.5 105.5 127.5 104.6 129.4 103.9 131.4 103.3 133.8 102.9ZM118.4 181.4L119 181.9 119.5 181.9 120 182.4 120.5 182.4 121 182.9 121.5 182.9 122 183.4 122.5 183.4 123 183.9 124 183.9 124.5 184.4 125.5 184.4 126 184.9 127 184.9 127.5 185.4 128.9 185.4 129.4 185.9 131.4 185.9 131.9 186.4 142.9 186.4 143.4 185.9 145.4 185.9 145.9 185.4 147.4 185.4 147.9 184.9 148.9 184.9 149.4 184.4 150.4 184.4 150.9 183.9 151.9 183.9 152.4 183.4 152.9 183.4 153.4 182.9 153.9 182.9 154.4 182.4 154.9 182.4 155.4 181.9 155.9 181.9 156.4 181.4 156.6 181.4 154.4 183.3 152.4 184.8 150.4 186 147.9 187.2 145.4 188.2 142.9 188.8 140.4 189.2 137.4 189.4 134.4 189.2 131.9 188.8 129.4 188.1 127 187.2 124.9 186.2 122.5 184.7 120.4 183.2 118.4 181.4Z" fill="#edae5f" stroke="#000" stroke-opacity="0.34" stroke-width="1.0"/>
<path d="M134.5 103.4L136.9 103.2 139.9 103.3 142.4 103.7 145.4 104.4 147.9 105.4 150.4 106.6 152.9 108.2 155.1 109.9 154.9 109.9 154.4 109.4 153.9 109.4 153.4 108.9 152.9 108.9 152.4 108.4 151.9 108.4 151.4 107.9 150.4 107.9 149.9 107.4 148.9 107.4 148.4 106.9 147.4 106.9 146.9 106.4 144.9 106.4 144.4 105.9 141.9 105.9 141.4 105.4 133.4 105.4 132.9 105.9 130.4 105.9 129.9 106.4 128 106.4 127.5 106.9 126.5 106.9 126 107.4 125 107.4 124.5 107.9 123.5 107.9 123 108.4 122.5 108.4 122 108.9 121.5 108.9 121 109.4 120.5 109.4 122 108.3 123.5 107.2 125.5 106.1 127 105.4 128.9 104.6 130.4 104.2 132.4 103.7 134.5 103.4ZM119.9 109.9L120.3 109.6 119.9 109.9ZM120.2 182.4L120.5 182.4 121 182.9 121.5 182.9 122 183.4 122.5 183.4 123 183.9 124 183.9 124.5 184.4 125.5 184.4 126 184.9 127 184.9 127.5 185.4 128.9 185.4 129.4 185.9 131.4 185.9 131.9 186.4 142.9 186.4 143.4 185.9 145.4 185.9 145.9 185.4 147.4 185.4 147.9 184.9 148.9 184.9 149.4 184.4 150.4 184.4 150.9 183.9 151.9 183.9 152.4 183.4 152.9 183.4 153.4 182.9 153.9 182.9 154.4 182.4 154.8 182.4 152.9 183.8 150.9 185.1 148.9 186.2 146.4 187.2 143.9 188 141.9 188.4 139.9 188.7 137.4 188.8 134.9 188.7 132.9 188.4 130.4 187.8 128.4 187.2 126 186.1 124 185.1 121.9 183.7 120.2 182.4Z" fill="#eeb061" stroke="#000" stroke-opacity="0.34" stroke-width="1.0"/>
<path d="M134.9 103.9L136.9 103.8 139.4 103.8 141.9 104.1 143.9 104.6 145.9 105.2 148.4 106.2 150.4 107.2 152.4 108.4 151.9 108.4 151.4 107.9 150.4 107.9 149.9 107.4 148.9 107.4 148.4 106.9 147.4 106.9 146.9 106.4 144.9 106.4 144.4 105.9 141.9 105.9 141.4 105.4 133.4 105.4 132.9 105.9 130.4 105.9 129.9 106.4 128 106.4 127.5 106.9 126.5 106.9 126 107.4 125 107.4 124.5 107.9 123.5 107.9 123 108.4 122.6 108.4 124 107.5 125.5 106.7 127 106 128.4 105.4 131.4 104.5 132.9 104.2 134.9 103.9ZM121.9 108.9L122.1 108.7 121.9 108.9ZM152.9 108.9L152.6 108.5 153.1 108.9 152.9 108.9ZM122.3 183.4L122.5 183.4 122.8 183.7 122.3 183.4ZM151.9 183.9L152.4 183.4 152.7 183.4 151.4 184.2 149.9 185.1 148.4 185.8 146.4 186.7 144.9 187.2 142.9 187.7 140.9 188 139.4 188.2 137.4 188.2 135.4 188.2 133.9 188 131.9 187.6 129.9 187.1 128.4 186.6 126.5 185.8 124.9 185 123 183.9 124 183.9 124.5 184.4 125.5 184.4 126 184.9 127 184.9 127.5 185.4 128.9 185.4 129.4 185.9 131.4 185.9 131.9 186.4 142.9 186.4 143.4 185.9 145.4 185.9 145.9 185.4 147.4 185.4 147.9 184.9 148.9 184.9 149.4 184.4 150.4 184.4 150.9 183.9 151.9 183.9Z" fill="#eeb263" stroke="#000" stroke-opacity="0.34" stroke-width="1.0"/>
<ellipse cx="137.5" cy="146.0" rx="40.42" ry="41.80" fill="#fff"/>
</g>
<g clip-path="url(#cb)">
<rect x="276.4" y="46.0" width="192.5" height="200.5" fill="#2a5591"/>
<ellipse cx="372.45" cy="145.75" rx="66.48" ry="69.76" fill="#4a68a6" stroke="#000" stroke-opacity="0.55" stroke-width="1.0"/>
<ellipse cx="372.45" cy="145.75" rx="55.94" ry="58.69" fill="#7a82a4" stroke="#000" stroke-opacity="0.55" stroke-width="1.0"/>
<ellipse cx="372.45" cy="145.75" rx="51.48" ry="54.02" fill="#a6938a" stroke="#000" stroke-opacity="0.55" stroke-width="1.0"/>
<ellipse cx="372.45" cy="145.75" rx="48.72" ry="51.12" fill="#b98f64" stroke="#000" stroke-opacity="0.50" stroke-width="1.0"/>
<ellipse cx="372.45" cy="145.75" rx="46.75" ry="49.05" fill="#de9b4f" stroke="#000" stroke-opacity="0.45" stroke-width="1.0"/>
<ellipse cx="372.45" cy="145.75" rx="45.22" ry="47.45" fill="#df9d50" stroke="#000" stroke-opacity="0.40" stroke-width="1.0"/>
<ellipse cx="372.45" cy="145.75" rx="43.99" ry="46.16" fill="#e19e51" stroke="#000" stroke-opacity="0.35" stroke-width="1.0"/>
<ellipse cx="372.45" cy="145.75" rx="42.96" ry="45.08" fill="#e2a052" stroke="#000" stroke-opacity="0.34" stroke-width="1.0"/>
<ellipse cx="372.45" cy="145.75" rx="42.08" ry="44.16" fill="#e4a153" stroke="#000" stroke-opacity="0.34" stroke-width="1.0"/>
<ellipse cx="372.45" cy="145.75" rx="41.31" ry="43.35" fill="#e5a354" stroke="#000" stroke-opacity="0.34" stroke-width="1.0"/>
<ellipse cx="372.45" cy="145.75" rx="40.63" ry="42.64" fill="#e7a456" stroke="#000" stroke-opacity="0.34" stroke-width="1.0"/>
<ellipse cx="372.45" cy="145.75" rx="39.98" ry="41.95" fill="#fff"/>
</g>
<g stroke="#000" stroke-width="1.3" fill="none">
<path d="M221 45.25H36.8V247H221"/>
<rect x="272.6" y="45.25" width="200.7" height="201.75"/>
</g>
<g stroke="#000" stroke-width="0.8">
<line x1="37.3" y1="246.00" x2="40.50" y2="246.00"/>
<line x1="37.3" y1="236.00" x2="39.10" y2="236.00"/>
<line x1="37.3" y1="226.00" x2="39.10" y2="226.00"/>
<line x1="37.3" y1="216.00" x2="39.10" y2="216.00"/>
<line x1="37.3" y1="206.00" x2="39.10" y2="206.00"/>
<line x1="37.3" y1="196.00" x2="40.50" y2="196.00"/>
<line x1="37.3" y1="186.00" x2="39.10" y2="186.00"/>
<line x1="37.3" y1="176.00" x2="39.10" y2="176.00"/>
<line x1="37.3" y1="166.00" x2="39.10" y2="166.00"/>
<line x1="37.3" y1="156.00" x2="39.10" y2="156.00"/>
<line x1="37.3" y1="146.00" x2="40.50" y2="146.00"/>
<line x1="37.3" y1="136.00" x2="39.10" y2="136.00"/>
<line x1="37.3" y1="126.00" x2="39.10" y2="126.00"/>
<line x1="37.3" y1="116.00" x2="39.10" y2="116.00"/>
<line x1="37.3" y1="106.00" x2="39.10" y2="106.00"/>
<line x1="37.3" y1="96.00" x2="40.50" y2="96.00"/>
<line x1="37.3" y1="86.00" x2="39.10" y2="86.00"/>
<line x1="37.3" y1="76.00" x2="39.10" y2="76.00"/>
<line x1="37.3" y1="66.00" x2="39.10" y2="66.00"/>
<line x1="37.3" y1="56.00" x2="39.10" y2="56.00"/>
<line x1="37.3" y1="46.00" x2="40.50" y2="46.00"/>
<line x1="41.20" y1="246.6" x2="41.20" y2="244.00"/>
<line x1="41.20" y1="45.8" x2="41.20" y2="48.40"/>
<line x1="50.87" y1="246.6" x2="50.87" y2="245.10"/>
<line x1="50.87" y1="45.8" x2="50.87" y2="47.30"/>
<line x1="60.54" y1="246.6" x2="60.54" y2="245.10"/>
<line x1="60.54" y1="45.8" x2="60.54" y2="47.30"/>
<line x1="70.21" y1="246.6" x2="70.21" y2="245.10"/>
<line x1="70.21" y1="45.8" x2="70.21" y2="47.30"/>
<line x1="79.88" y1="246.6" x2="79.88" y2="245.10"/>
<line x1="79.88" y1="45.8" x2="79.88" y2="47.30"/>
<line x1="89.55" y1="246.6" x2="89.55" y2="244.00"/>
<line x1="89.55" y1="45.8" x2="89.55" y2="48.40"/>
<line x1="99.22" y1="246.6" x2="99.22" y2="245.10"/>
<line x1="99.22" y1="45.8" x2="99.22" y2="47.30"/>
<line x1="108.89" y1="246.6" x2="108.89" y2="245.10"/>
<line x1="108.89" y1="45.8" x2="108.89" y2="47.30"/>
<line x1="118.56" y1="246.6" x2="118.56" y2="245.10"/>
<line x1="118.56" y1="45.8" x2="118.56" y2="47.30"/>
<line x1="128.23" y1="246.6" x2="128.23" y2="245.10"/>
<line x1="128.23" y1="45.8" x2="128.23" y2="47.30"/>
<line x1="137.90" y1="246.6" x2="137.90" y2="244.00"/>
<line x1="137.90" y1="45.8" x2="137.90" y2="48.40"/>
<line x1="147.57" y1="246.6" x2="147.57" y2="245.10"/>
<line x1="147.57" y1="45.8" x2="147.57" y2="47.30"/>
<line x1="157.24" y1="246.6" x2="157.24" y2="245.10"/>
<line x1="157.24" y1="45.8" x2="157.24" y2="47.30"/>
<line x1="166.91" y1="246.6" x2="166.91" y2="245.10"/>
<line x1="166.91" y1="45.8" x2="166.91" y2="47.30"/>
<line x1="176.58" y1="246.6" x2="176.58" y2="245.10"/>
<line x1="176.58" y1="45.8" x2="176.58" y2="47.30"/>
<line x1="186.25" y1="246.6" x2="186.25" y2="244.00"/>
<line x1="186.25" y1="45.8" x2="186.25" y2="48.40"/>
<line x1="195.92" y1="246.6" x2="195.92" y2="245.10"/>
<line x1="195.92" y1="45.8" x2="195.92" y2="47.30"/>
<line x1="205.59" y1="246.6" x2="205.59" y2="245.10"/>
<line x1="205.59" y1="45.8" x2="205.59" y2="47.30"/>
<line x1="215.26" y1="246.6" x2="215.26" y2="245.10"/>
<line x1="215.26" y1="45.8" x2="215.26" y2="47.30"/>
<line x1="273" y1="245.75" x2="276.20" y2="245.75"/>
<line x1="473" y1="245.75" x2="469.80" y2="245.75"/>
<line x1="276.50" y1="246.6" x2="276.50" y2="244.00"/>
<line x1="276.50" y1="45.8" x2="276.50" y2="48.40"/>
<line x1="273" y1="235.75" x2="274.80" y2="235.75"/>
<line x1="473" y1="235.75" x2="471.20" y2="235.75"/>
<line x1="286.12" y1="246.6" x2="286.12" y2="245.10"/>
<line x1="286.12" y1="45.8" x2="286.12" y2="47.30"/>
<line x1="273" y1="225.75" x2="274.80" y2="225.75"/>
<line x1="473" y1="225.75" x2="471.20" y2="225.75"/>
<line x1="295.74" y1="246.6" x2="295.74" y2="245.10"/>
<line x1="295.74" y1="45.8" x2="295.74" y2="47.30"/>
<line x1="273" y1="215.75" x2="274.80" y2="215.75"/>
<line x1="473" y1="215.75" x2="471.20" y2="215.75"/>
<line x1="305.36" y1="246.6" x2="305.36" y2="245.10"/>
<line x1="305.36" y1="45.8" x2="305.36" y2="47.30"/>
<line x1="273" y1="205.75" x2="274.80" y2="205.75"/>
<line x1="473" y1="205.75" x2="471.20" y2="205.75"/>
<line x1="314.98" y1="246.6" x2="314.98" y2="245.10"/>
<line x1="314.98" y1="45.8" x2="314.98" y2="47.30"/>
<line x1="273" y1="195.75" x2="276.20" y2="195.75"/>
<line x1="473" y1="195.75" x2="469.80" y2="195.75"/>
<line x1="324.60" y1="246.6" x2="324.60" y2="244.00"/>
<line x1="324.60" y1="45.8" x2="324.60" y2="48.40"/>
<line x1="273" y1="185.75" x2="274.80" y2="185.75"/>
<line x1="473" y1="185.75" x2="471.20" y2="185.75"/>
<line x1="334.22" y1="246.6" x2="334.22" y2="245.10"/>
<line x1="334.22" y1="45.8" x2="334.22" y2="47.30"/>
<line x1="273" y1="175.75" x2="274.80" y2="175.75"/>
<line x1="473" y1="175.75" x2="471.20" y2="175.75"/>
<line x1="343.84" y1="246.6" x2="343.84" y2="245.10"/>
<line x1="343.84" y1="45.8" x2="343.84" y2="47.30"/>
<line x1="273" y1="165.75" x2="274.80" y2="165.75"/>
<line x1="473" y1="165.75" x2="471.20" y2="165.75"/>
<line x1="353.46" y1="246.6" x2="353.46" y2="245.10"/>
<line x1="353.46" y1="45.8" x2="353.46" y2="47.30"/>
<line x1="273" y1="155.75" x2="274.80" y2="155.75"/>
<line x1="473" y1="155.75" x2="471.20" y2="155.75"/>
<line x1="363.08" y1="246.6" x2="363.08" y2="245.10"/>
<line x1="363.08" y1="45.8" x2="363.08" y2="47.30"/>
<line x1="273" y1="145.75" x2="276.20" y2="145.75"/>
<line x1="473" y1="145.75" x2="469.80" y2="145.75"/>
<line x1="372.70" y1="246.6" x2="372.70" y2="244.00"/>
<line x1="372.70" y1="45.8" x2="372.70" y2="48.40"/>
<line x1="273" y1="135.75" x2="274.80" y2="135.75"/>
<line x1="473" y1="135.75" x2="471.20" y2="135.75"/>
<line x1="382.32" y1="246.6" x2="382.32" y2="245.10"/>
<line x1="382.32" y1="45.8" x2="382.32" y2="47.30"/>
<line x1="273" y1="125.75" x2="274.80" y2="125.75"/>
<line x1="473" y1="125.75" x2="471.20" y2="125.75"/>
<line x1="391.94" y1="246.6" x2="391.94" y2="245.10"/>
<line x1="391.94" y1="45.8" x2="391.94" y2="47.30"/>
<line x1="273" y1="115.75" x2="274.80" y2="115.75"/>
<line x1="473" y1="115.75" x2="471.20" y2="115.75"/>
<line x1="401.56" y1="246.6" x2="401.56" y2="245.10"/>
<line x1="401.56" y1="45.8" x2="401.56" y2="47.30"/>
<line x1="273" y1="105.75" x2="274.80" y2="105.75"/>
<line x1="473" y1="105.75" x2="471.20" y2="105.75"/>
<line x1="411.18" y1="246.6" x2="411.18" y2="245.10"/>
<line x1="411.18" y1="45.8" x2="411.18" y2="47.30"/>
<line x1="273" y1="95.75" x2="276.20" y2="95.75"/>
<line x1="473" y1="95.75" x2="469.80" y2="95.75"/>
<line x1="420.80" y1="246.6" x2="420.80" y2="244.00"/>
<line x1="420.80" y1="45.8" x2="420.80" y2="48.40"/>
<line x1="273" y1="85.75" x2="274.80" y2="85.75"/>
<line x1="473" y1="85.75" x2="471.20" y2="85.75"/>
<line x1="430.42" y1="246.6" x2="430.42" y2="245.10"/>
<line x1="430.42" y1="45.8" x2="430.42" y2="47.30"/>
<line x1="273" y1="75.75" x2="274.80" y2="75.75"/>
<line x1="473" y1="75.75" x2="471.20" y2="75.75"/>
<line x1="440.04" y1="246.6" x2="440.04" y2="245.10"/>
<line x1="440.04" y1="45.8" x2="440.04" y2="47.30"/>
<line x1="273" y1="65.75" x2="274.80" y2="65.75"/>
<line x1="473" y1="65.75" x2="471.20" y2="65.75"/>
<line x1="449.66" y1="246.6" x2="449.66" y2="245.10"/>
<line x1="449.66" y1="45.8" x2="449.66" y2="47.30"/>
<line x1="273" y1="55.75" x2="274.80" y2="55.75"/>
<line x1="473" y1="55.75" x2="471.20" y2="55.75"/>
<line x1="459.28" y1="246.6" x2="459.28" y2="245.10"/>
<line x1="459.28" y1="45.8" x2="459.28" y2="47.30"/>
<line x1="273" y1="45.75" x2="276.20" y2="45.75"/>
<line x1="473" y1="45.75" x2="469.80" y2="45.75"/>
<line x1="468.90" y1="246.6" x2="468.90" y2="244.00"/>
<line x1="468.90" y1="45.8" x2="468.90" y2="48.40"/>
</g>
<g font-size="12.5" fill="#000" stroke="#000" stroke-width="0.25">
<text x="34.1" y="49.2" text-anchor="end">100</text>
<text x="34.1" y="99.5" text-anchor="end">50</text>
<text x="34.1" y="149.9" text-anchor="end">0</text>
<text x="34.1" y="200.3" text-anchor="end">−<tspan dx="1.1">50</tspan></text>
<text x="34.1" y="250.8" text-anchor="end">−<tspan dx="1.1">100</tspan></text>
<text x="269.6" y="49.2" text-anchor="end">100</text>
<text x="269.6" y="99.5" text-anchor="end">50</text>
<text x="269.6" y="149.9" text-anchor="end">0</text>
<text x="269.6" y="200.3" text-anchor="end">−<tspan dx="1.1">50</tspan></text>
<text x="269.6" y="250.8" text-anchor="end">−<tspan dx="1.1">100</tspan></text>
</g>
<g font-size="12.5" fill="#000" stroke="#000" stroke-width="0.25">
<text transform="translate(39.7,260.8) scale(0.82,1)" text-anchor="middle">−<tspan dx="1.6">100</tspan></text>
<text transform="translate(88.1,260.8) scale(0.82,1)" text-anchor="middle">−<tspan dx="1.6">50</tspan></text>
<text transform="translate(137.5,260.8) scale(0.82,1)" text-anchor="middle">0</text>
<text transform="translate(185.8,260.8) scale(0.82,1)" text-anchor="middle">50</text>
<text transform="translate(275.3,260.8) scale(0.82,1)" text-anchor="middle">−<tspan dx="1.6">100</tspan></text>
<text transform="translate(323.4,260.8) scale(0.82,1)" text-anchor="middle">−<tspan dx="1.6">50</tspan></text>
<text transform="translate(372.1,260.8) scale(0.82,1)" text-anchor="middle">0</text>
<text transform="translate(420.2,260.8) scale(0.82,1)" text-anchor="middle">50</text>
<text transform="translate(468.3,260.8) scale(0.82,1)" text-anchor="middle">100</text>
</g>
<g font-size="12.5" fill="#000" stroke="#000" stroke-width="0.25">
<text x="135.7" y="278.7" text-anchor="middle">y (nm)</text>
<text x="371.3" y="278.7" text-anchor="middle">y (nm)</text>
<text transform="translate(10.7,148.3) rotate(-90)" text-anchor="middle">z (nm)</text>
<text transform="translate(252.6,148.3) rotate(-90)" text-anchor="middle">z (nm)</text>
</g>
<g font-size="39" fill="#000">
<text transform="translate(48.33,80.8) scale(0.835,1.014)">a</text>
<text transform="translate(70.35,78.0) scale(1.04,0.88)">)</text>
<text transform="translate(283.0,81.2) scale(0.955,0.968)">b</text>
<text transform="translate(305.5,79.1) scale(1.06,0.911)">)</text>
</g>
<rect x="539.5" y="1.50" width="11.100000000000023" height="23.50" fill="#fff2be"/>
<rect x="539.5" y="24.70" width="11.100000000000023" height="23.25" fill="#ffe5a5"/>
<rect x="539.5" y="47.65" width="11.100000000000023" height="23.25" fill="#fdd68e"/>
<rect x="539.5" y="70.60" width="11.100000000000023" height="23.25" fill="#f6c67e"/>
<rect x="539.5" y="93.55" width="11.100000000000023" height="23.25" fill="#f1b96b"/>
<rect x="539.5" y="116.50" width="11.100000000000023" height="23.25" fill="#eba959"/>
<rect x="539.5" y="139.45" width="11.100000000000023" height="23.25" fill="#de9b4f"/>
<rect x="539.5" y="162.40" width="11.100000000000023" height="23.25" fill="#b98f64"/>
<rect x="539.5" y="185.35" width="11.100000000000023" height="23.25" fill="#94827a"/>
<rect x="539.5" y="208.30" width="11.100000000000023" height="23.25" fill="#6e7592"/>
<rect x="539.5" y="231.25" width="11.100000000000023" height="23.25" fill="#4a68a6"/>
<rect x="539.5" y="254.20" width="11.100000000000023" height="23.40" fill="#2a5591"/>
<line x1="539.5" y1="24.70" x2="550.6" y2="24.70" stroke="#000" stroke-opacity="0.6" stroke-width="0.8"/>
<line x1="550.6" y1="24.70" x2="553.1" y2="24.70" stroke="#555" stroke-width="0.6"/>
<line x1="539.5" y1="47.65" x2="550.6" y2="47.65" stroke="#000" stroke-opacity="0.6" stroke-width="0.8"/>
<line x1="550.6" y1="47.65" x2="553.1" y2="47.65" stroke="#555" stroke-width="0.6"/>
<line x1="539.5" y1="70.60" x2="550.6" y2="70.60" stroke="#000" stroke-opacity="0.6" stroke-width="0.8"/>
<line x1="550.6" y1="70.60" x2="553.1" y2="70.60" stroke="#555" stroke-width="0.6"/>
<line x1="539.5" y1="93.55" x2="550.6" y2="93.55" stroke="#000" stroke-opacity="0.6" stroke-width="0.8"/>
<line x1="550.6" y1="93.55" x2="553.1" y2="93.55" stroke="#555" stroke-width="0.6"/>
<line x1="539.5" y1="116.50" x2="550.6" y2="116.50" stroke="#000" stroke-opacity="0.6" stroke-width="0.8"/>
<line x1="550.6" y1="116.50" x2="553.1" y2="116.50" stroke="#555" stroke-width="0.6"/>
<line x1="539.5" y1="139.45" x2="550.6" y2="139.45" stroke="#000" stroke-opacity="0.6" stroke-width="0.8"/>
<line x1="550.6" y1="139.45" x2="553.1" y2="139.45" stroke="#555" stroke-width="0.6"/>
<line x1="539.5" y1="162.40" x2="550.6" y2="162.40" stroke="#000" stroke-opacity="0.6" stroke-width="0.8"/>
<line x1="550.6" y1="162.40" x2="553.1" y2="162.40" stroke="#555" stroke-width="0.6"/>
<line x1="539.5" y1="185.35" x2="550.6" y2="185.35" stroke="#000" stroke-opacity="0.6" stroke-width="0.8"/>
<line x1="550.6" y1="185.35" x2="553.1" y2="185.35" stroke="#555" stroke-width="0.6"/>
<line x1="539.5" y1="208.30" x2="550.6" y2="208.30" stroke="#000" stroke-opacity="0.6" stroke-width="0.8"/>
<line x1="550.6" y1="208.30" x2="553.1" y2="208.30" stroke="#555" stroke-width="0.6"/>
<line x1="539.5" y1="231.25" x2="550.6" y2="231.25" stroke="#000" stroke-opacity="0.6" stroke-width="0.8"/>
<line x1="550.6" y1="231.25" x2="553.1" y2="231.25" stroke="#555" stroke-width="0.6"/>
<line x1="539.5" y1="254.20" x2="550.6" y2="254.20" stroke="#000" stroke-opacity="0.6" stroke-width="0.8"/>
<line x1="550.6" y1="254.20" x2="553.1" y2="254.20" stroke="#555" stroke-width="0.6"/>
<rect x="539.5" y="1.5" width="11.100000000000023" height="275.8" fill="none" stroke="#777" stroke-opacity="0.7" stroke-width="0.7"/>
<text x="555.8" y="27.2" font-size="9" fill="#555">6.60</text>
<text x="555.8" y="50.1" font-size="9" fill="#555">6.27</text>
<text x="555.8" y="73.1" font-size="9" fill="#555">5.94</text>
<text x="555.8" y="96.0" font-size="9" fill="#555">5.61</text>
<text x="555.8" y="119.0" font-size="9" fill="#555">5.28</text>
<text x="555.8" y="141.9" font-size="9" fill="#555">4.95</text>
<text x="555.8" y="164.9" font-size="9" fill="#555">4.62</text>
<text x="555.8" y="187.8" font-size="9" fill="#555">4.29</text>
<text x="555.8" y="210.8" font-size="9" fill="#555">3.96</text>
<text x="555.8" y="233.7" font-size="9" fill="#555">3.63</text>
<text x="555.8" y="256.7" font-size="9" fill="#555">3.30</text>
</svg>
</body></html>
